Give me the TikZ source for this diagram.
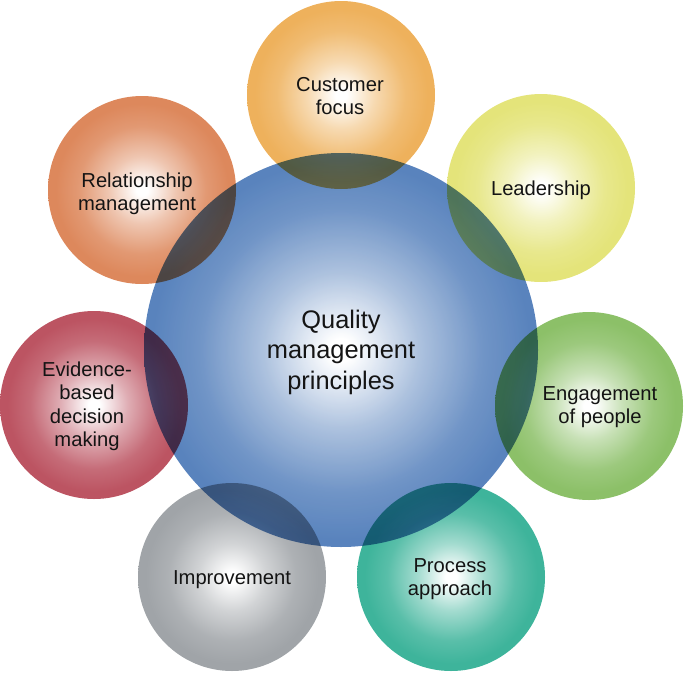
\documentclass[tikz,border=0pt]{standalone}
\usepackage{fontspec}
\setmainfont{Liberation Sans}
\definecolor{cCF}{RGB}{238,177,92}
\definecolor{cLD}{RGB}{228,228,122}
\definecolor{cEN}{RGB}{140,192,104}
\definecolor{cPA}{RGB}{62,180,155}
\definecolor{cIM}{RGB}{160,164,168}
\definecolor{cEV}{RGB}{188,84,98}
\definecolor{cRM}{RGB}{221,136,92}
\definecolor{cQ}{RGB}{66,114,180}
\newcommand{\mkshade}[2]{\pgfdeclareradialshading{#1}{\pgfpoint{0bp}{0bp}}{color(0bp)=(white); color(1.5bp)=(white); color(9bp)=(#2!48!white); color(17bp)=(#2!86!white); color(23bp)=(#2); color(50bp)=(#2)}}
\mkshade{shCF}{cCF}
\mkshade{shLD}{cLD}
\mkshade{shEN}{cEN}
\mkshade{shPA}{cPA}
\mkshade{shIM}{cIM}
\mkshade{shEV}{cEV}
\mkshade{shRM}{cRM}
\pgfdeclareradialshading{shQ}{\pgfpoint{0bp}{0bp}}{color(0bp)=(white); color(1.5bp)=(white); color(10bp)=(cQ!50!white); color(18bp)=(cQ!86!white); color(24bp)=(cQ); color(50bp)=(cQ)}
\tikzset{
  bub/.style={circle, minimum size=188pt, inner sep=0pt},
  txt/.style={font=\fontsize{20.2}{23.3}\selectfont, align=center, text=black!92, inner sep=0pt},
  bigtxt/.style={font=\fontsize{25.4}{30.5}\selectfont, align=center, text=black!92, inner sep=0pt}
}
\begin{document}
\begin{tikzpicture}[x=1pt,y=-1pt]
\useasboundingbox (0,0) rectangle (685,672);
\node[bub, shading=shCF] (cf) at (341,95) {};
\node[bub, shading=shLD] (ld) at (541,188) {};
\node[bub, shading=shEN] (en) at (589,406) {};
\node[bub, shading=shPA] (pa) at (451,577) {};
\node[bub, shading=shIM] (im) at (232,577) {};
\node[bub, shading=shEV] (ev) at (94,405) {};
\node[bub, shading=shRM] (rm) at (142,190) {};
\begin{scope}[blend mode=multiply, opacity=0.88]
\node[circle, minimum size=394pt, inner sep=0pt, shading=shQ] (q) at (341,350) {};
\end{scope}
\node[bigtxt] (tq) at (341,352) {Quality\\management\\principles};
\node[txt] (tcf) at (340,96) {Customer\\focus};
\node[txt] (tld) at (541,190.7) {Leadership};
\node[txt] (ten) at (600,407.2) {Engagement\\of people};
\node[txt] (tpa) at (450,579.2) {Process\\approach};
\node[txt] (tim) at (232,579.7) {Improvement};
\node[txt] (tev) at (87,406.2) {Evidence-\\based\\decision\\making};
\node[txt] (trm) at (137,193.7) {Relationship\\management};
\end{tikzpicture}
\end{document}
